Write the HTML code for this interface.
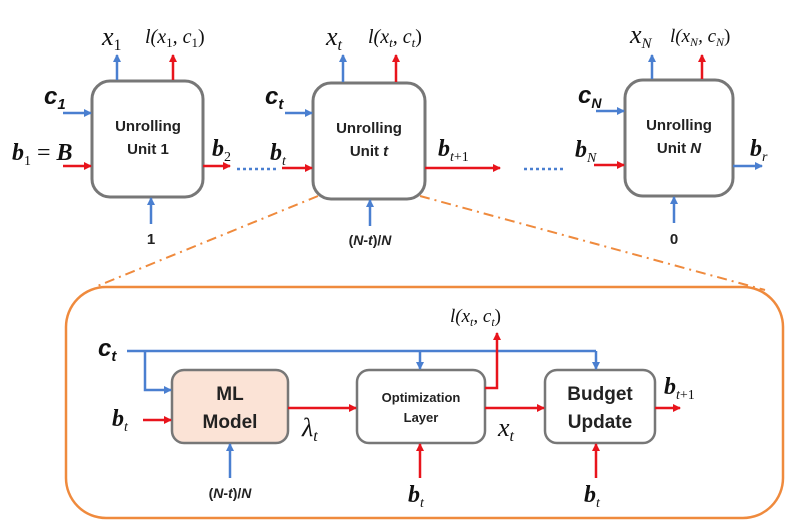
<!DOCTYPE html>
<html><head><meta charset="utf-8"><style>
html,body{margin:0;padding:0;background:#fff;width:794px;height:526px;overflow:hidden}
svg text{font-family:"Liberation Serif",serif}
svg .lbl text{font-family:"Liberation Sans",sans-serif;font-weight:bold;fill:#222}
svg text.cs{font-family:"Liberation Sans",sans-serif}
.m{font-style:italic;fill:#111}
.b{font-style:italic;font-weight:bold;fill:#111}
</style></head><body>
<svg width="794" height="526" viewBox="0 0 794 526" xmlns="http://www.w3.org/2000/svg">
<defs>
<marker id="ab" markerWidth="8" markerHeight="8" refX="7" refY="4" orient="auto" markerUnits="userSpaceOnUse"><path d="M0,0 L8,4 L0,8 z" fill="#4a7fd0"/></marker>
<marker id="ar" markerWidth="8" markerHeight="8" refX="7" refY="4" orient="auto" markerUnits="userSpaceOnUse"><path d="M0,0 L8,4 L0,8 z" fill="#e8141c"/></marker>
</defs>
<g fill="none" stroke-width="2.5">
<path d="M318,196 L95,287" stroke="#ef8a3d" stroke-width="2" stroke-dasharray="10,5,2,5"/>
<path d="M420,196 L765,290" stroke="#ef8a3d" stroke-width="2" stroke-dasharray="10,5,2,5"/>
<rect x="66" y="287" width="717" height="231" rx="40" stroke="#ef8a3d" stroke-width="2.5" fill="#fff"/>
<rect x="92" y="81" width="111" height="116" rx="18" stroke="#777" stroke-width="3" fill="#fff"/>
<rect x="313" y="83" width="112" height="116" rx="18" stroke="#777" stroke-width="3" fill="#fff"/>
<rect x="625" y="80" width="108" height="116" rx="18" stroke="#777" stroke-width="3" fill="#fff"/>
<line x1="117" y1="80" x2="117" y2="55" stroke="#4a7fd0" marker-end="url(#ab)"/>
<line x1="173" y1="80" x2="173" y2="55" stroke="#e8141c" marker-end="url(#ar)"/>
<line x1="63" y1="113" x2="91" y2="113" stroke="#4a7fd0" marker-end="url(#ab)"/>
<line x1="63" y1="166" x2="91" y2="166" stroke="#e8141c" marker-end="url(#ar)"/>
<line x1="151" y1="224" x2="151" y2="198" stroke="#4a7fd0" marker-end="url(#ab)"/>
<line x1="203" y1="166" x2="230" y2="166" stroke="#e8141c" marker-end="url(#ar)"/>
<line x1="237" y1="169" x2="278" y2="169" stroke="#4a7fd0" stroke-dasharray="3,3"/>
<line x1="343" y1="82" x2="343" y2="55" stroke="#4a7fd0" marker-end="url(#ab)"/>
<line x1="396" y1="82" x2="396" y2="55" stroke="#e8141c" marker-end="url(#ar)"/>
<line x1="285" y1="113" x2="312" y2="113" stroke="#4a7fd0" marker-end="url(#ab)"/>
<line x1="282" y1="168" x2="312" y2="168" stroke="#e8141c" marker-end="url(#ar)"/>
<line x1="370" y1="226" x2="370" y2="200" stroke="#4a7fd0" marker-end="url(#ab)"/>
<line x1="425" y1="168" x2="500" y2="168" stroke="#e8141c" marker-end="url(#ar)"/>
<line x1="524" y1="169" x2="565" y2="169" stroke="#4a7fd0" stroke-dasharray="3,3"/>
<line x1="652" y1="79" x2="652" y2="55" stroke="#4a7fd0" marker-end="url(#ab)"/>
<line x1="702" y1="79" x2="702" y2="55" stroke="#e8141c" marker-end="url(#ar)"/>
<line x1="596" y1="111" x2="624" y2="111" stroke="#4a7fd0" marker-end="url(#ab)"/>
<line x1="594" y1="165" x2="624" y2="165" stroke="#e8141c" marker-end="url(#ar)"/>
<line x1="674" y1="223" x2="674" y2="197" stroke="#4a7fd0" marker-end="url(#ab)"/>
<line x1="733" y1="166" x2="762" y2="166" stroke="#4a7fd0" marker-end="url(#ab)"/>
<rect x="172" y="370" width="116" height="73" rx="12" stroke="#777" stroke-width="2.5" fill="#fbe3d6"/>
<rect x="357" y="370" width="128" height="73" rx="12" stroke="#777" stroke-width="2.5" fill="#fff"/>
<rect x="545" y="370" width="110" height="73" rx="12" stroke="#777" stroke-width="2.5" fill="#fff"/>
<path d="M127,351 L596,351" stroke="#4a7fd0"/>
<path d="M145,351 L145,390 L171,390" stroke="#4a7fd0" marker-end="url(#ab)"/>
<line x1="420" y1="351" x2="420" y2="369" stroke="#4a7fd0" marker-end="url(#ab)"/>
<line x1="596" y1="351" x2="596" y2="369" stroke="#4a7fd0" marker-end="url(#ab)"/>
<path d="M485,388 L497,388 L497,333" stroke="#e8141c" marker-end="url(#ar)"/>
<line x1="143" y1="420" x2="171" y2="420" stroke="#e8141c" marker-end="url(#ar)"/>
<line x1="288" y1="408" x2="356" y2="408" stroke="#e8141c" marker-end="url(#ar)"/>
<line x1="485" y1="408" x2="544" y2="408" stroke="#e8141c" marker-end="url(#ar)"/>
<line x1="655" y1="408" x2="680" y2="408" stroke="#e8141c" marker-end="url(#ar)"/>
<line x1="230" y1="478" x2="230" y2="444" stroke="#4a7fd0" marker-end="url(#ab)"/>
<line x1="420" y1="478" x2="420" y2="444" stroke="#e8141c" marker-end="url(#ar)"/>
<line x1="596" y1="478" x2="596" y2="444" stroke="#e8141c" marker-end="url(#ar)"/>
</g>
<g class="lbl" font-size="15" text-anchor="middle">
<text x="148" y="131">Unrolling</text><text x="148" y="154">Unit 1</text>
<text x="369" y="133">Unrolling</text><text x="369" y="156">Unit <tspan font-style="italic">t</tspan></text>
<text x="679" y="130">Unrolling</text><text x="679" y="153">Unit <tspan font-style="italic">N</tspan></text>
<text x="151" y="244" font-size="15">1</text>
<text x="370" y="245" font-size="14">(<tspan font-style="italic">N</tspan>-<tspan font-style="italic">t</tspan>)/<tspan font-style="italic">N</tspan></text>
<text x="674" y="244" font-size="15">0</text>
<text x="230" y="400" font-size="19">ML</text><text x="230" y="428" font-size="19">Model</text>
<text x="421" y="402" font-size="13">Optimization</text><text x="421" y="422" font-size="13">Layer</text>
<text x="600" y="400" font-size="19">Budget</text><text x="600" y="428" font-size="19">Update</text>
<text x="230" y="498" font-size="14">(<tspan font-style="italic">N</tspan>-<tspan font-style="italic">t</tspan>)/<tspan font-style="italic">N</tspan></text>
</g>
<text class="m" x="102" y="45" font-size="26">x<tspan font-size="16" dy="5" font-style="normal">1</tspan></text>
<text class="m" x="145" y="43" font-size="20">l(x<tspan font-size="13" dy="4" font-style="normal">1</tspan><tspan dy="-4">, c</tspan><tspan font-size="13" dy="4" font-style="normal">1</tspan><tspan dy="-4" font-style="normal">)</tspan></text>
<text class="b cs" x="44" y="104" font-size="24">c<tspan font-size="15" dy="5">1</tspan></text>
<text class="b" x="12" y="160" font-size="24">b<tspan font-size="14" dy="5" font-weight="normal" font-style="normal">1</tspan><tspan dy="-5" font-style="normal" font-weight="normal"> = </tspan>B</text>
<text class="b" x="212" y="156" font-size="24">b<tspan font-size="14" dy="5" font-weight="normal" font-style="normal">2</tspan></text>
<text class="m" x="326" y="45" font-size="26">x<tspan font-size="16" dy="5">t</tspan></text>
<text class="m" x="368" y="43" font-size="20">l(x<tspan font-size="13" dy="4">t</tspan><tspan dy="-4">, c</tspan><tspan font-size="13" dy="4">t</tspan><tspan dy="-4" font-style="normal">)</tspan></text>
<text class="b cs" x="265" y="104" font-size="24">c<tspan font-size="15" dy="5">t</tspan></text>
<text class="b" x="270" y="160" font-size="24">b<tspan font-size="14" dy="5" font-weight="normal">t</tspan></text>
<text class="b" x="438" y="156" font-size="24">b<tspan font-size="14" dy="5" font-weight="normal">t<tspan font-style="normal">+1</tspan></tspan></text>
<text class="m" x="630" y="43" font-size="26">x<tspan font-size="15" dy="5">N</tspan></text>
<text class="m" x="670" y="42" font-size="19">l(x<tspan font-size="12" dy="4">N</tspan><tspan dy="-4">, c</tspan><tspan font-size="12" dy="4">N</tspan><tspan dy="-4" font-style="normal">)</tspan></text>
<text class="b cs" x="578" y="103" font-size="24">c<tspan font-size="14" dy="5">N</tspan></text>
<text class="b" x="575" y="157" font-size="24">b<tspan font-size="14" dy="5" font-weight="normal">N</tspan></text>
<text class="b" x="750" y="156" font-size="24">b<tspan font-size="14" dy="5" font-weight="normal">r</tspan></text>
<text class="m" x="450" y="322" font-size="19">l(x<tspan font-size="12" dy="4">t</tspan><tspan dy="-4">, c</tspan><tspan font-size="12" dy="4">t</tspan><tspan dy="-4" font-style="normal">)</tspan></text>
<text class="b cs" x="98" y="356" font-size="24">c<tspan font-size="15" dy="5">t</tspan></text>
<text class="b" x="112" y="426" font-size="24">b<tspan font-size="14" dy="5" font-weight="normal">t</tspan></text>
<text class="m" x="302" y="436" font-size="26">λ<tspan font-size="16" dy="5">t</tspan></text>
<text class="m" x="498" y="436" font-size="26">x<tspan font-size="16" dy="5">t</tspan></text>
<text class="b" x="664" y="394" font-size="24">b<tspan font-size="14" dy="5" font-weight="normal">t<tspan font-style="normal">+1</tspan></tspan></text>
<text class="b" x="408" y="502" font-size="24">b<tspan font-size="14" dy="5" font-weight="normal">t</tspan></text>
<text class="b" x="584" y="502" font-size="24">b<tspan font-size="14" dy="5" font-weight="normal">t</tspan></text>
</svg>
</body></html>
